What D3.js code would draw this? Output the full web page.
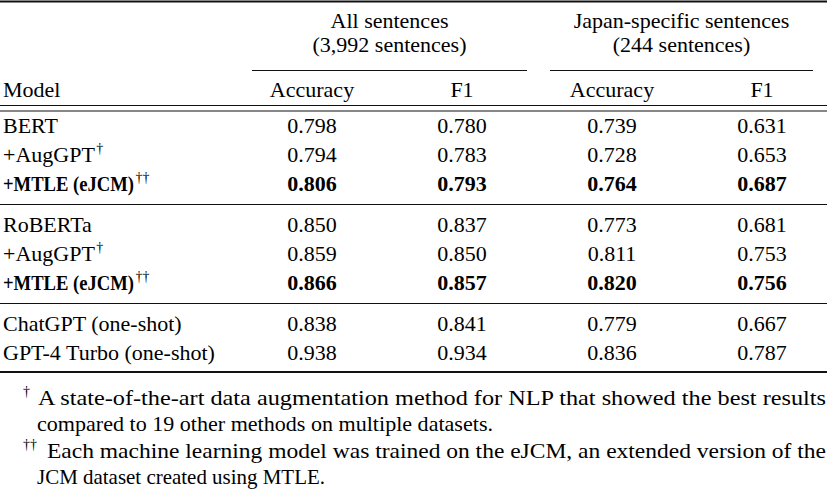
<!DOCTYPE html>
<html>
<head>
<meta charset="utf-8">
<script src="https://cdn.jsdelivr.net/npm/d3@7"></script>
<style>
  body { margin: 0; background: #fff; }
  svg { display: block; }
</style>
</head>
<body>
<svg></svg>
<script>
// table content
const groups = ["All sentences", "Japan-specific sentences"]
const groupCounts = ["(3,992 sentences)", "(244 sentences)"]
const metrics = ["Accuracy", "F1", "Accuracy", "F1"]
const models = ["BERT", "+AugGPT", "+MTLE (eJCM)", "RoBERTa", "+AugGPT", "+MTLE (eJCM)", "ChatGPT (one-shot)", "GPT-4 Turbo (one-shot)"]
const marks = ["", "†", "††", "", "†", "††", "", ""]
const blocks = [0, 0, 0, 1, 1, 1, 2, 2]
const boldRows = [false, false, true, false, false, true, false, false]
const allAcc = [0.798, 0.794, 0.806, 0.850, 0.859, 0.866, 0.838, 0.938]
const allF1 = [0.780, 0.783, 0.793, 0.837, 0.850, 0.857, 0.841, 0.934]
const jpAcc = [0.739, 0.728, 0.764, 0.773, 0.811, 0.820, 0.779, 0.836]
const jpF1 = [0.631, 0.653, 0.687, 0.681, 0.753, 0.756, 0.667, 0.787]
const footMarks = ["†", "", "††", ""]
const footLines = [
  "A state-of-the-art data augmentation method for NLP that showed the best results",
  "compared to 19 other methods on multiple datasets.",
  "Each machine learning model was trained on the eJCM, an extended version of the",
  "JCM dataset created using MTLE."
]

let width = 829
let height = 493
let fs = 22
let serif = "'Liberation Serif', 'Times New Roman', Tinos, 'DejaVu Serif', 'Noto Serif', serif"

let svg = d3.select('svg')
   .attr('width', width)
   .attr('height', height)
   .attr('font-family', serif)
   .style('font-family', serif)

let columns = [allAcc, allF1, jpAcc, jpF1]

let xScale = d3.scaleBand()
   .domain(d3.range(columns.length))
   .range([237, 837])

let xCenter = (i) => xScale(i) + xScale.bandwidth() / 2

// row baselines: fixed step plus a gap for every block
let yScale = (i) => 133 + 29 * i + 12 * blocks[i]

let fmt = d3.format('.3f')

let rule = (x1, x2, y, w) => {
    svg.append('line')
       .attr('x1', x1).attr('x2', x2)
       .attr('y1', y).attr('y2', y)
       .attr('stroke', '#111')
       .attr('stroke-width', w)
}

// rules
rule(0, 827, 1.5, 2.2)
let groupSpans = [[252, 527], [550, 813]]
groupSpans.forEach(s => rule(s[0], s[1], 70.5, 1))
rule(0, 827, 105.5, 1.2)
rule(0, 827, 111, 1.2)
d3.range(1, models.length).forEach(i => {
    if (blocks[i] !== blocks[i - 1]) rule(0, 827, yScale(i - 1) + 13.5, 1.2)
})
rule(0, 827, 372, 2)

// group headers
svg.selectAll('.grp')
   .data(groups)
   .enter()
   .append('text')
   .attr('class', 'grp')
   .attr('x', (d, i) => (groupSpans[i][0] + groupSpans[i][1]) / 2)
   .attr('y', 28)
   .attr('text-anchor', 'middle')
   .attr('font-size', fs)
   .text(d => d)

svg.selectAll('.cnt')
   .data(groupCounts)
   .enter()
   .append('text')
   .attr('class', 'cnt')
   .attr('x', (d, i) => (groupSpans[i][0] + groupSpans[i][1]) / 2)
   .attr('y', 52)
   .attr('text-anchor', 'middle')
   .attr('font-size', fs)
   .text(d => d)

// column header row
svg.append('text')
   .attr('x', 3).attr('y', 97)
   .attr('font-size', fs)
   .text('Model')

svg.selectAll('.metric')
   .data(metrics)
   .enter()
   .append('text')
   .attr('class', 'metric')
   .attr('x', (d, i) => xCenter(i))
   .attr('y', 97)
   .attr('text-anchor', 'middle')
   .attr('font-size', fs)
   .text(d => d)

// model names; the printed bold face is narrow, so bold names get squeezed
let boldWidth = 131
let names = svg.selectAll('.model')
   .data(models)
   .enter()
   .append('text')
   .attr('class', 'model')
   .attr('font-size', fs)
   .attr('font-weight', (d, i) => boldRows[i] ? 'bold' : 'normal')
   .text(d => d)

let nameEnd = []
names.each(function (d, i) {
    let w = this.getComputedTextLength()
    let k = boldRows[i] ? boldWidth / w : 1
    d3.select(this).attr('transform', 'translate(3,' + yScale(i) + ') scale(' + k + ',1)')
    nameEnd[i] = 3 + w * k
})

svg.selectAll('.mark')
   .data(marks)
   .enter()
   .append('text')
   .attr('class', 'mark')
   .attr('x', (d, i) => nameEnd[i] + 1.5)
   .attr('y', (d, i) => yScale(i) - 9)
   .attr('font-size', 14)
   .text(d => d)

// values
columns.forEach((col, c) => {
    svg.selectAll('.col' + c)
       .data(col)
       .enter()
       .append('text')
       .attr('class', 'col' + c)
       .attr('x', xCenter(c))
       .attr('y', (d, i) => yScale(i))
       .attr('text-anchor', 'middle')
       .attr('font-size', fs)
       .attr('font-weight', (d, i) => boldRows[i] ? 'bold' : 'normal')
       .text(d => fmt(d))
})

// footnotes, fitted to the widths of the printed lines
let footBase = [405, 431, 458, 484]
let footStart = [38, 37, 47, 37]
let footEnd = [826, 493, 826, 325]

svg.selectAll('.fmark')
   .data(footMarks)
   .enter()
   .append('text')
   .attr('class', 'fmark')
   .attr('x', 23)
   .attr('y', (d, i) => footBase[i] - 9)
   .attr('font-size', 14)
   .text(d => d)

svg.selectAll('.foot')
   .data(footLines)
   .enter()
   .append('text')
   .attr('class', 'foot')
   .attr('x', (d, i) => footStart[i])
   .attr('y', (d, i) => footBase[i])
   .attr('font-size', fs)
   .attr('textLength', (d, i) => footEnd[i] - footStart[i])
   .attr('lengthAdjust', 'spacingAndGlyphs')
   .text(d => d)
</script>
</body>
</html>
